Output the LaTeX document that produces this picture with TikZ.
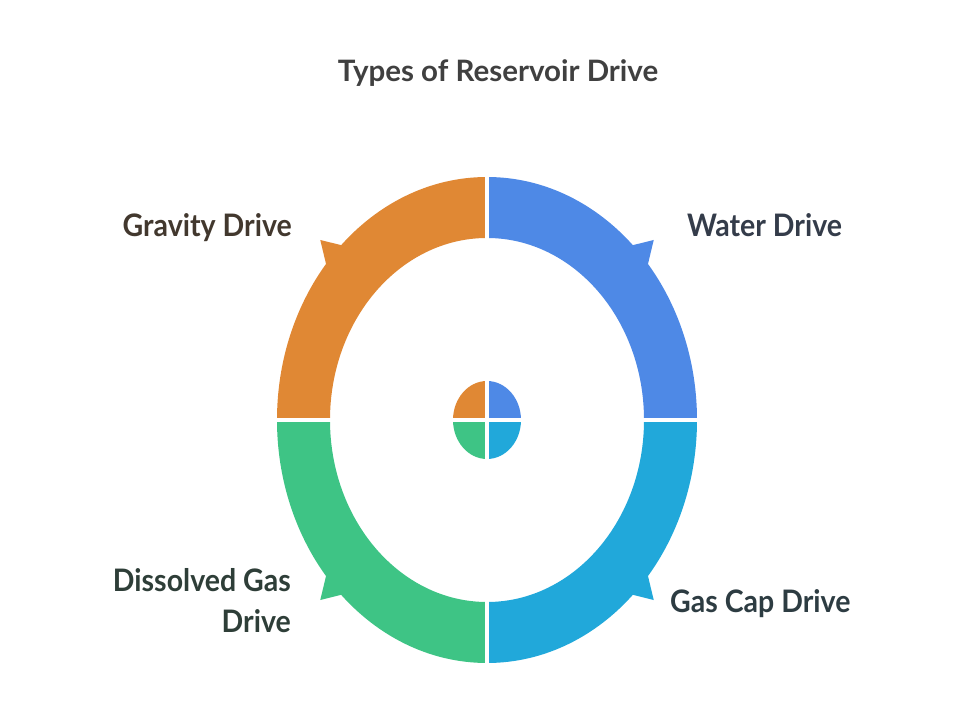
\documentclass[tikz,border=0pt]{standalone}
\usepackage{fontspec}
\setmainfont{Lato}
\newfontfamily\drivefont[FakeStretch=0.92]{Lato}
\usetikzlibrary{positioning}
\definecolor{gravityorange}{RGB}{224,136,52}
\definecolor{waterblue}{RGB}{78,137,230}
\definecolor{dissolvedgreen}{RGB}{62,196,133}
\definecolor{gascapcyan}{RGB}{33,168,218}
\definecolor{titlegray}{RGB}{64,64,64}
\definecolor{gravitytext}{RGB}{66,56,46}
\definecolor{watertext}{RGB}{52,60,74}
\definecolor{dissolvedtext}{RGB}{46,62,56}
\definecolor{gascaptext}{RGB}{45,60,66}
\tikzstyle{heading} = [font=\bfseries\fontsize{29.5}{34}\selectfont, text=titlegray, inner sep=0pt]
\tikzstyle{drivelabel} = [font=\drivefont\bfseries\fontsize{31}{41}\selectfont, inner sep=0pt]
\tikzstyle{gap} = [white, line width=3.5pt]

\begin{document}
\begin{tikzpicture}[x=1pt, y=1pt]
        \useasboundingbox (0,0) rectangle (980,715);

        \coordinate (ctr) at (487,295);
        \coordinate (ringtop) at (487,550);
        \coordinate (ringbottom) at (487,40);
        \coordinate (ringleft) at (270,295);
        \coordinate (ringright) at (704,295);

        % ring quarters, spikes and centre pie
        \foreach \col/\a/\s in {waterblue/0/43, gravityorange/90/137, dissolvedgreen/180/223, gascapcyan/270/317} {
          \pgfmathsetmacro{\b}{\a+90}
          \fill [\col] ([shift={(ctr)}]\a:210 and 243) arc[start angle=\a, end angle=\b, x radius=210, y radius=243]
            -- ([shift={(ctr)}]\b:157 and 182) arc[start angle=\b, end angle=\a, x radius=157, y radius=182] -- cycle;
          \pgfmathsetmacro{\sl}{\s-4}
          \pgfmathsetmacro{\sr}{\s+4}
          \fill [\col] ([shift={(ctr)}]\sl:205 and 237) -- ([shift={(ctr)}]\s:228 and 264) -- ([shift={(ctr)}]\sr:205 and 237) -- cycle;
          \fill [\col] (ctr) -- ([shift={(ctr)}]\a:34 and 39) arc[start angle=\a, end angle=\b, x radius=34, y radius=39] -- cycle;
        }
        \draw [gap] (ringtop) -- (ringbottom);
        \draw [gap] (ringleft) -- (ringright);

        \node (title) [heading, anchor=base] at (498,633) {Types of Reservoir Drive};
        \node (gravity) [drivelabel, text=gravitytext, anchor=base east] at (292,478) {Gravity Drive};
        \node (water) [drivelabel, text=watertext, anchor=base west] at (687,478) {Water Drive};
        \node (dissolved) [drivelabel, text=dissolvedtext, anchor=north east, align=right] at (291,147) {Dissolved Gas\\Drive};
        \node (gascap) [drivelabel, text=gascaptext, anchor=base west] at (670,102) {Gas Cap Drive};

\end{tikzpicture}
\end{document}
